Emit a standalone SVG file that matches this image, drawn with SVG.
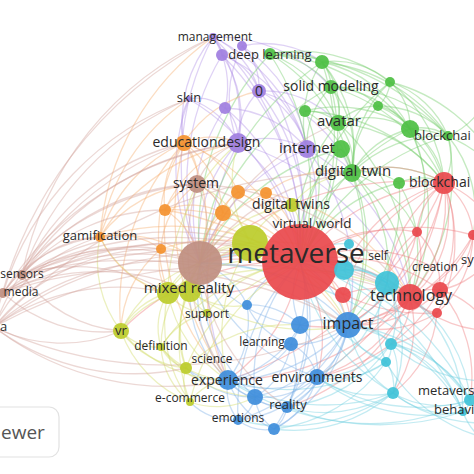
<svg xmlns="http://www.w3.org/2000/svg" width="474" height="474" viewBox="0 0 474 474">
<style>
text{font-family:"Open Sans","Noto Sans","DejaVu Sans",sans-serif;fill:#2a2a2a}
.lb{text-anchor:middle}
.st{text-anchor:start}
#edges path{fill:none;stroke-width:1.3;stroke-opacity:0.42}
.ep{stroke:#b394e6}.eg{stroke:#74cc6c}.er{stroke:#ee7c7e}.ec{stroke:#6fd0e0}
.eb{stroke:#7fb0e6}.ey{stroke:#d2dc6a}.eo{stroke:#f5ae70}.en{stroke:#d2a29a}
.red{fill:#e9494d}.grn{fill:#4fbf45}.blu{fill:#3f8edb}.cya{fill:#41c3d8}
.yel{fill:#bccc2c}.pur{fill:#a07fe0}.org{fill:#f4922f}.brn{fill:#bf8f81}
circle{fill-opacity:0.93}
</style>
<rect width="474" height="474" fill="#fff"/>
<g id="edges">
<g class="ep">
<path d="M213 37A140 140 0 0 1 238 143"/><path d="M213 37A180 180 0 0 1 307 149"/><path d="M213 37A290 290 0 0 1 300 262"/><path d="M213 37A85 85 0 0 1 259 91"/><path d="M213 37A30 30 0 0 1 222 55"/><path d="M213 37A90 90 0 0 1 225 108"/><path d="M213 37A130 130 0 0 0 184 143"/><path d="M213 37A270 270 0 0 0 200 263"/><path d="M213 37A155 155 0 0 1 331 87"/>
<path d="M222 55A110 110 0 0 1 238 143"/><path d="M222 55A60 60 0 0 1 259 91"/><path d="M222 55A150 150 0 0 1 307 149"/><path d="M222 55A265 265 0 0 1 300 262"/><path d="M222 55A250 250 0 0 0 200 263"/>
<path d="M242 46A60 60 0 0 1 259 91"/><path d="M242 46A145 145 0 0 1 307 149"/><path d="M242 46A270 270 0 0 1 300 262"/><path d="M242 46A115 115 0 0 0 238 143"/><path d="M242 46A100 100 0 0 1 322 62"/>
<path d="M189 99A80 80 0 0 1 238 143"/><path d="M189 99A235 235 0 0 1 300 262"/><path d="M189 99A55 55 0 0 0 184 143"/><path d="M189 99A45 45 0 0 1 225 108"/><path d="M189 99A195 195 0 0 0 200 263"/>
<path d="M225 108A45 45 0 0 1 238 143"/><path d="M225 108A110 110 0 0 1 307 149"/><path d="M225 108A205 205 0 0 1 300 262"/><path d="M225 108A190 190 0 0 0 200 263"/>
<path d="M259 91A70 70 0 0 0 238 143"/><path d="M259 91A90 90 0 0 1 307 149"/><path d="M259 91A210 210 0 0 1 300 262"/><path d="M259 91A100 100 0 0 1 338 123"/><path d="M259 91A150 150 0 0 1 352 173"/>
<path d="M238 143A160 160 0 0 1 300 262"/><path d="M238 143A145 145 0 0 0 200 263"/><path d="M238 143A85 85 0 0 1 307 149"/><path d="M238 143A285 285 0 0 0 228 380"/><path d="M238 143A275 275 0 0 1 410 297"/>
<path d="M307 149A135 135 0 0 1 300 262"/><path d="M307 149A60 60 0 0 1 352 173"/><path d="M307 149A190 190 0 0 0 200 263"/><path d="M307 149A215 215 0 0 1 348 325"/><path d="M307 149A215 215 0 0 1 410 297"/>
</g>
<g class="eg">
<path d="M270 54A85 85 0 0 1 331 87"/><path d="M270 54A65 65 0 0 1 322 62"/><path d="M270 54A115 115 0 0 1 338 123"/><path d="M270 54A250 250 0 0 1 300 262"/><path d="M270 54A175 175 0 0 1 352 173"/><path d="M270 54A265 265 0 0 0 200 263"/><path d="M270 54A235 235 0 0 1 448 136"/><path d="M270 54A190 190 0 0 1 410 129"/><path d="M270 54A150 150 0 0 1 390 82"/>
<path d="M322 62A40 40 0 0 1 331 87"/><path d="M322 62A85 85 0 0 1 390 82"/><path d="M322 62A75 75 0 0 1 338 123"/><path d="M322 62A130 130 0 0 1 410 129"/><path d="M322 62A240 240 0 0 1 300 262"/><path d="M322 62A135 135 0 0 1 352 173"/><path d="M322 62A280 280 0 0 0 200 263"/><path d="M322 62A105 105 0 0 0 307 149"/><path d="M322 62A175 175 0 0 1 448 136"/>
<path d="M331 87A45 45 0 0 1 338 123"/><path d="M331 87A60 60 0 0 1 378 106"/><path d="M331 87A110 110 0 0 1 410 129"/><path d="M331 87A215 215 0 0 1 300 262"/><path d="M331 87A105 105 0 0 1 352 173"/><path d="M331 87A260 260 0 0 0 200 263"/><path d="M331 87A80 80 0 0 0 307 149"/><path d="M331 87A155 155 0 0 1 448 136"/><path d="M331 87A180 180 0 0 1 444 183"/>
<path d="M390 82A35 35 0 0 1 378 106"/><path d="M390 82A60 60 0 0 1 410 129"/><path d="M390 82A95 95 0 0 1 448 136"/><path d="M390 82A120 120 0 0 0 352 173"/><path d="M390 82A240 240 0 0 0 300 262"/><path d="M390 82A140 140 0 0 1 444 183"/><path d="M390 82A170 170 0 0 1 500 170"/><path d="M448 136A75 75 0 0 0 490 90"/>
<path d="M378 106A55 55 0 0 0 338 123"/><path d="M378 106A50 50 0 0 1 410 129"/><path d="M378 106A100 100 0 0 0 352 173"/><path d="M378 106A95 95 0 0 1 448 136"/><path d="M378 106A115 115 0 0 1 444 183"/>
<path d="M305 111A45 45 0 0 1 338 123"/><path d="M305 111A95 95 0 0 1 352 173"/><path d="M305 111A180 180 0 0 1 300 262"/><path d="M305 111A130 130 0 0 1 410 129"/><path d="M305 111A185 185 0 0 1 444 183"/>
<path d="M338 123A85 85 0 0 1 410 129"/><path d="M338 123A65 65 0 0 1 352 173"/><path d="M338 123A170 170 0 0 0 300 262"/><path d="M338 123A145 145 0 0 1 444 183"/><path d="M338 123A220 220 0 0 1 410 297"/>
<path d="M410 129A50 50 0 0 1 448 136"/><path d="M410 129A90 90 0 0 0 352 173"/><path d="M410 129A205 205 0 0 0 300 262"/><path d="M410 129A75 75 0 0 1 444 183"/><path d="M410 129A200 200 0 0 1 410 297"/><path d="M410 129A125 125 0 0 1 417 232"/><path d="M410 129A115 115 0 0 1 495 170"/>
<path d="M448 136A125 125 0 0 0 352 173"/><path d="M448 136A235 235 0 0 0 300 262"/><path d="M448 136A60 60 0 0 1 444 183"/><path d="M448 136A195 195 0 0 1 410 297"/><path d="M448 136A120 120 0 0 1 473 235"/>
<path d="M341 149A35 35 0 0 1 352 173"/><path d="M341 149A135 135 0 0 0 300 262"/><path d="M341 149A215 215 0 0 0 200 263"/><path d="M341 149A210 210 0 0 1 348 325"/>
<path d="M352 173A115 115 0 0 0 300 262"/><path d="M352 173A60 60 0 0 1 399 183"/><path d="M352 173A110 110 0 0 1 444 183"/><path d="M352 173A165 165 0 0 1 410 297"/><path d="M352 173A180 180 0 0 1 348 325"/><path d="M352 173A135 135 0 0 1 387 283"/><path d="M352 173A105 105 0 0 1 417 232"/>
<path d="M399 183A55 55 0 0 1 444 183"/><path d="M399 183A150 150 0 0 0 300 262"/><path d="M399 183A135 135 0 0 1 410 297"/><path d="M399 183A180 180 0 0 1 348 325"/>
</g>
<g class="er">
<path d="M300 262A200 200 0 0 1 444 183"/><path d="M300 262A140 140 0 0 1 410 297"/><path d="M300 262A145 145 0 0 1 417 232"/><path d="M300 262A210 210 0 0 1 473 235"/><path d="M300 262A170 170 0 0 1 440 290"/><path d="M300 262A175 175 0 0 0 437 313"/><path d="M300 262A65 65 0 0 1 343 295"/><path d="M300 262A160 160 0 0 1 435 268"/>
<path d="M444 183A140 140 0 0 1 410 297"/><path d="M444 183A70 70 0 0 0 417 232"/><path d="M444 183A70 70 0 0 1 473 235"/><path d="M444 183A130 130 0 0 1 440 290"/><path d="M444 183A140 140 0 0 0 387 283"/><path d="M444 183A205 205 0 0 1 348 325"/><path d="M444 183A310 310 0 0 0 200 263"/><path d="M444 183A180 180 0 0 0 343 295"/><path d="M444 183A280 280 0 0 1 317 377"/><path d="M444 183A110 110 0 0 0 352 173"/><path d="M444 183A95 95 0 0 1 500 240"/><path d="M444 183A155 155 0 0 1 437 313"/><path d="M444 183A160 160 0 0 0 344 270"/><path d="M444 183A350 350 0 0 1 228 380"/>
<path d="M417 232A80 80 0 0 1 410 297"/><path d="M417 232A75 75 0 0 1 440 290"/><path d="M417 232A75 75 0 0 0 387 283"/><path d="M417 232A140 140 0 0 1 348 325"/>
<path d="M473 235A110 110 0 0 1 410 297"/><path d="M473 235A75 75 0 0 1 440 290"/><path d="M473 235A105 105 0 0 1 437 313"/><path d="M473 235A185 185 0 0 1 348 325"/><path d="M473 235A200 200 0 0 1 470 400"/><path d="M473 235A85 85 0 0 1 500 300"/>
<path d="M410 297A40 40 0 0 1 440 290"/><path d="M410 297A40 40 0 0 0 437 313"/><path d="M410 297A80 80 0 0 1 348 325"/><path d="M410 297A80 80 0 0 0 343 295"/><path d="M410 297A255 255 0 0 0 200 263"/><path d="M410 297A240 240 0 0 1 228 380"/><path d="M410 297A115 115 0 0 1 393 393"/><path d="M410 297A60 60 0 0 1 391 344"/><path d="M410 297A145 145 0 0 1 317 377"/><path d="M410 297A200 200 0 0 1 287 407"/><path d="M410 297A115 115 0 0 0 500 330"/><path d="M410 297A140 140 0 0 1 300 325"/>
<path d="M440 290A135 135 0 0 1 470 400"/><path d="M440 290A120 120 0 0 1 348 325"/><path d="M440 290A185 185 0 0 1 317 377"/><path d="M440 290A80 80 0 0 0 495 250"/><path d="M440 290A80 80 0 0 1 490 330"/>
<path d="M437 313A110 110 0 0 1 348 325"/><path d="M437 313A110 110 0 0 1 393 393"/><path d="M437 313A65 65 0 0 1 391 344"/>
<path d="M435 268A70 70 0 0 1 410 297"/><path d="M435 268A110 110 0 0 0 444 183"/>
<path d="M343 295A40 40 0 0 1 348 325"/><path d="M343 295A175 175 0 0 0 200 263"/>
<path d="M300 262A120 120 0 0 0 200 263"/><path d="M300 262A135 135 0 0 1 190 291"/><path d="M300 262A230 230 0 0 0 121 331"/><path d="M300 262A175 175 0 0 1 228 380"/><path d="M300 262A140 140 0 0 1 317 377"/>
</g>
<g class="ec">
<path d="M344 270A55 55 0 0 1 300 262"/><path d="M344 270A65 65 0 0 1 348 325"/><path d="M344 270A85 85 0 0 1 410 297"/><path d="M344 270A55 55 0 0 1 387 283"/>
<path d="M349 244A60 60 0 0 0 300 262"/>
<path d="M387 283A110 110 0 0 0 300 262"/><path d="M387 283A70 70 0 0 1 348 325"/><path d="M387 283A35 35 0 0 1 410 297"/><path d="M387 283A75 75 0 0 1 391 344"/><path d="M387 283A95 95 0 0 0 386 362"/><path d="M387 283A130 130 0 0 1 393 393"/><path d="M387 283A140 140 0 0 1 317 377"/><path d="M387 283A230 230 0 0 0 200 263"/>
<path d="M391 344A55 55 0 0 0 348 325"/><path d="M391 344A25 25 0 0 1 386 362"/><path d="M391 344A60 60 0 0 1 393 393"/><path d="M391 344A115 115 0 0 1 470 400"/><path d="M391 344A140 140 0 0 0 500 380"/><path d="M391 344A100 100 0 0 1 317 377"/><path d="M391 344A145 145 0 0 1 287 407"/>
<path d="M386 362A40 40 0 0 1 393 393"/><path d="M386 362A55 55 0 0 1 348 325"/><path d="M386 362A85 85 0 0 1 317 377"/><path d="M386 362A160 160 0 0 1 300 262"/><path d="M386 362A160 160 0 0 0 495 440"/><path d="M386 362A160 160 0 0 1 274 429"/><path d="M386 362A190 190 0 0 1 228 380"/>
<path d="M393 393A100 100 0 0 1 348 325"/><path d="M393 393A90 90 0 0 0 470 400"/><path d="M393 393A85 85 0 0 0 463 412"/><path d="M393 393A95 95 0 0 1 317 377"/><path d="M393 393A130 130 0 0 1 287 407"/><path d="M393 393A200 200 0 0 1 228 380"/><path d="M393 393A195 195 0 0 1 300 262"/><path d="M393 393A150 150 0 0 1 274 429"/><path d="M393 393A145 145 0 0 0 510 420"/><path d="M393 393A190 190 0 0 1 238 420"/>
<path d="M470 400A20 20 0 0 1 463 412"/><path d="M470 400A140 140 0 0 0 410 297"/><path d="M470 400A170 170 0 0 0 348 325"/><path d="M470 400A260 260 0 0 0 300 262"/><path d="M470 400A185 185 0 0 1 317 377"/><path d="M470 400A360 360 0 0 0 200 263"/><path d="M470 400A220 220 0 0 1 287 407"/><path d="M470 400A80 80 0 0 0 520 440"/>
<path d="M463 412A170 170 0 0 0 348 325"/><path d="M463 412A150 150 0 0 0 410 297"/><path d="M463 412A110 110 0 0 0 391 344"/><path d="M463 412A180 180 0 0 1 317 377"/><path d="M463 412A270 270 0 0 0 300 262"/><path d="M463 412A280 280 0 0 1 228 380"/><path d="M463 412A65 65 0 0 0 500 450"/>
</g>
<g class="eb">
<path d="M348 325A100 100 0 0 0 300 262"/><path d="M348 325A60 60 0 0 0 300 325"/><path d="M348 325A75 75 0 0 1 317 377"/><path d="M348 325A160 160 0 0 1 228 380"/><path d="M348 325A125 125 0 0 1 287 407"/><path d="M348 325A190 190 0 0 0 200 263"/><path d="M348 325A75 75 0 0 1 291 344"/><path d="M348 325A140 140 0 0 1 255 397"/><path d="M348 325A180 180 0 0 1 238 420"/>
<path d="M300 325A75 75 0 0 1 300 262"/><path d="M300 325A110 110 0 0 1 228 380"/><path d="M300 325A65 65 0 0 1 317 377"/><path d="M300 325A135 135 0 0 1 200 263"/>
<path d="M291 344A85 85 0 0 1 228 380"/><path d="M291 344A50 50 0 0 1 317 377"/><path d="M291 344A100 100 0 0 0 300 262"/><path d="M291 344A75 75 0 0 1 255 397"/><path d="M291 344A75 75 0 0 1 287 407"/>
<path d="M247 305A80 80 0 0 1 300 262"/><path d="M247 305A95 95 0 0 1 228 380"/><path d="M247 305A75 75 0 0 0 200 263"/><path d="M247 305A70 70 0 0 1 300 325"/><path d="M247 305A70 70 0 0 0 291 344"/>
<path d="M228 380A105 105 0 0 0 317 377"/><path d="M228 380A40 40 0 0 0 255 397"/><path d="M228 380A80 80 0 0 0 287 407"/><path d="M228 380A50 50 0 0 0 238 420"/><path d="M228 380A80 80 0 0 0 274 429"/><path d="M228 380A145 145 0 0 1 200 263"/><path d="M228 380A115 115 0 0 1 190 291"/>
<path d="M317 377A80 80 0 0 1 255 397"/><path d="M317 377A50 50 0 0 1 287 407"/><path d="M317 377A80 80 0 0 1 274 429"/><path d="M317 377A110 110 0 0 1 238 420"/>
<path d="M255 397A40 40 0 0 0 287 407"/><path d="M255 397A35 35 0 0 1 238 420"/><path d="M255 397A45 45 0 0 0 274 429"/><path d="M255 397A170 170 0 0 1 300 262"/><path d="M255 397A90 90 0 0 1 186 368"/>
<path d="M287 407A35 35 0 0 1 274 429"/><path d="M287 407A175 175 0 0 0 300 262"/>
<path d="M238 420A45 45 0 0 0 274 429"/><path d="M238 420A205 205 0 0 1 300 262"/><path d="M274 429A205 205 0 0 0 300 262"/><path d="M274 429A150 150 0 0 0 348 325"/>
<path d="M228 380A55 55 0 0 1 186 368"/><path d="M238 420A60 60 0 0 1 190 402"/><path d="M255 397A170 170 0 0 1 200 263"/><path d="M317 377A185 185 0 0 1 200 263"/>
</g>
<g class="ey">
<path d="M250 243A65 65 0 0 0 200 263"/><path d="M250 243A115 115 0 0 0 168 293"/><path d="M250 243A90 90 0 0 0 190 291"/><path d="M250 243A100 100 0 0 0 197 184"/>
<path d="M168 293A50 50 0 0 1 200 263"/><path d="M190 291A35 35 0 0 1 200 263"/><path d="M168 293A160 160 0 0 1 300 262"/><path d="M168 293A50 50 0 0 0 207 313"/><path d="M190 291A70 70 0 0 0 247 305"/>
<path d="M168 293A75 75 0 0 0 121 331"/><path d="M190 291A95 95 0 0 0 121 331"/>
<path d="M121 331A130 130 0 0 1 200 263"/><path d="M121 331A50 50 0 0 0 161 347"/><path d="M121 331A90 90 0 0 0 186 368"/><path d="M121 331A140 140 0 0 0 228 380"/><path d="M121 331A120 120 0 0 0 190 402"/>
<path d="M161 347A65 65 0 0 1 168 293"/><path d="M161 347A195 195 0 0 1 300 262"/><path d="M161 347A110 110 0 0 1 200 263"/><path d="M161 347A90 90 0 0 0 228 380"/><path d="M161 347A75 75 0 0 0 190 402"/><path d="M161 347A75 75 0 0 1 207 313"/><path d="M161 347A125 125 0 0 0 255 397"/>
<path d="M186 368A180 180 0 0 1 300 262"/><path d="M186 368A125 125 0 0 1 200 263"/><path d="M186 368A90 90 0 0 1 190 291"/><path d="M186 368A40 40 0 0 0 190 402"/><path d="M186 368A145 145 0 0 1 300 325"/><path d="M186 368A40 40 0 0 1 161 347"/>
<path d="M190 402A210 210 0 0 1 300 262"/><path d="M190 402A135 135 0 0 1 168 293"/><path d="M190 402A165 165 0 0 1 200 263"/><path d="M190 402A50 50 0 0 1 228 380"/><path d="M190 402A80 80 0 0 0 255 397"/>
<path d="M207 313A125 125 0 0 1 300 262"/><path d="M207 313A60 60 0 0 1 200 263"/><path d="M207 313A35 35 0 0 1 190 291"/>
<path d="M292 205A70 70 0 0 1 300 262"/><path d="M292 205A130 130 0 0 0 200 263"/><path d="M292 205A85 85 0 0 1 352 173"/><path d="M292 205A70 70 0 0 0 250 243"/>
<path d="M250 243A120 120 0 0 1 238 143"/><path d="M250 243A165 165 0 0 0 228 380"/><path d="M168 293A130 130 0 0 0 228 380"/><path d="M190 291A195 195 0 0 0 348 325"/>
<path d="M168 293A105 105 0 0 1 100 237"/><path d="M121 331A115 115 0 0 1 100 237"/><path d="M168 293A200 200 0 0 1 238 143"/><path d="M190 291A130 130 0 0 1 197 184"/>
<path d="M250 243A200 200 0 0 1 410 297"/><path d="M250 243A160 160 0 0 1 348 325"/><path d="M168 293A290 290 0 0 1 410 297"/>
</g>
<g class="eo">
<path d="M184 143A145 145 0 0 1 200 263"/><path d="M184 143A200 200 0 0 1 300 262"/><path d="M184 143A50 50 0 0 1 197 184"/><path d="M184 143A65 65 0 0 1 238 143"/><path d="M184 143A85 85 0 0 0 165 210"/><path d="M184 143A95 95 0 0 1 223 213"/><path d="M184 143A85 85 0 0 1 238 192"/><path d="M184 143A180 180 0 0 0 168 293"/><path d="M184 143A115 115 0 0 1 259 91"/>
<path d="M100 237A125 125 0 0 1 200 263"/><path d="M100 237A245 245 0 0 1 300 262"/><path d="M100 237A75 75 0 0 1 161 249"/><path d="M100 237A150 150 0 0 1 184 143"/><path d="M100 237A100 100 0 0 0 168 293"/><path d="M100 237A270 270 0 0 1 213 37"/><path d="M100 237A205 205 0 0 1 189 99"/><path d="M100 237A130 130 0 0 1 197 184"/><path d="M100 237A200 200 0 0 1 238 143"/>
<path d="M165 210A75 75 0 0 1 200 263"/><path d="M165 210A175 175 0 0 1 300 262"/><path d="M165 210A50 50 0 0 1 197 184"/><path d="M165 210A70 70 0 0 1 223 213"/><path d="M165 210A120 120 0 0 1 238 143"/>
<path d="M223 213A65 65 0 0 0 200 263"/><path d="M223 213A110 110 0 0 1 300 262"/><path d="M223 213A35 35 0 0 1 238 192"/><path d="M223 213A50 50 0 0 0 197 184"/>
<path d="M238 192A115 115 0 0 1 300 262"/><path d="M238 192A100 100 0 0 0 200 263"/><path d="M238 192A35 35 0 0 1 266 193"/>
<path d="M266 193A90 90 0 0 1 300 262"/><path d="M266 193A115 115 0 0 0 200 263"/><path d="M266 193A105 105 0 0 1 352 173"/>
<path d="M161 249A50 50 0 0 1 200 263"/><path d="M161 249A170 170 0 0 1 300 262"/><path d="M161 249A55 55 0 0 0 168 293"/><path d="M161 249A85 85 0 0 1 197 184"/>
<path d="M184 143A285 285 0 0 0 228 380"/><path d="M165 210A215 215 0 0 0 228 380"/><path d="M223 213A200 200 0 0 0 228 380"/><path d="M161 249A110 110 0 0 0 121 331"/><path d="M184 143A240 240 0 0 0 121 331"/>
<path d="M238 192A200 200 0 0 1 348 325"/><path d="M266 193A210 210 0 0 1 410 297"/><path d="M165 210A275 275 0 0 1 348 325"/>
</g>
<g class="en">
<path d="M197 184A95 95 0 0 1 200 263"/><path d="M197 184A160 160 0 0 1 300 262"/><path d="M197 184A70 70 0 0 1 238 143"/><path d="M197 184A50 50 0 0 1 223 213"/>
<path d="M22 275A215 215 0 0 1 200 263"/><path d="M22 275A330 330 0 0 1 300 262"/><path d="M22 275A175 175 0 0 1 168 293"/><path d="M22 275A460 460 0 0 1 410 297"/><path d="M22 275A400 400 0 0 1 348 325"/><path d="M22 275A280 280 0 0 1 250 243"/><path d="M22 275A300 300 0 0 1 238 143"/><path d="M22 275A240 240 0 0 1 184 143"/><path d="M22 275A230 230 0 0 1 197 184"/><path d="M22 275A330 330 0 0 1 213 37"/><path d="M22 275A300 300 0 0 1 189 99"/><path d="M22 275A190 190 0 0 1 165 210"/><path d="M22 275A105 105 0 0 1 100 237"/><path d="M22 275A135 135 0 0 0 121 331"/>
<path d="M3 293A240 240 0 0 1 200 263"/><path d="M3 293A355 355 0 0 1 300 262"/><path d="M3 293A225 225 0 0 1 190 291"/><path d="M3 293A480 480 0 0 1 410 297"/><path d="M3 293A420 420 0 0 1 348 325"/><path d="M3 293A265 265 0 0 1 197 184"/><path d="M3 293A330 330 0 0 1 238 143"/><path d="M3 293A300 300 0 0 1 189 99"/><path d="M3 293A205 205 0 0 1 161 249"/><path d="M3 293A135 135 0 0 1 100 237"/><path d="M3 293A150 150 0 0 0 121 331"/>
<path d="M-6 327A260 260 0 0 1 200 263"/><path d="M-6 327A370 370 0 0 1 300 262"/><path d="M-6 327A215 215 0 0 1 168 293"/><path d="M-6 327A150 150 0 0 0 121 331"/><path d="M-6 327A500 500 0 0 1 410 297"/><path d="M-6 327A420 420 0 0 0 348 325"/><path d="M-6 327A285 285 0 0 0 228 380"/><path d="M-6 327A320 320 0 0 1 184 143"/><path d="M-6 327A480 480 0 0 1 352 173"/><path d="M-6 327A420 420 0 0 1 213 37"/><path d="M-6 327A210 210 0 0 1 161 249"/><path d="M-6 327A170 170 0 0 1 100 237"/><path d="M-6 327A235 235 0 0 0 186 368"/>
<path d="M197 184A235 235 0 0 0 228 380"/><path d="M197 184A285 285 0 0 1 410 297"/><path d="M200 263A215 215 0 0 1 352 173"/><path d="M200 263A245 245 0 0 1 338 123"/><path d="M200 263A195 195 0 0 0 287 407"/><path d="M200 263A175 175 0 0 1 344 270"/>
</g>
</g>
<g id="nodes">
<g id="n-management"><circle class="pur" cx="213" cy="37" r="4"/></g>
<g id="n-p1"><circle class="pur" cx="222" cy="55" r="6"/></g>
<g id="n-p2"><circle class="pur" cx="242" cy="46" r="5"/></g>
<g id="n-skin"><circle class="pur" cx="189" cy="99" r="3"/></g>
<g id="n-p3"><circle class="pur" cx="225" cy="108" r="6"/></g>
<g id="n-zero"><circle class="pur" cx="259" cy="91" r="7"/></g>
<g id="n-design"><circle class="pur" cx="238" cy="143" r="10"/></g>
<g id="n-internet"><circle class="pur" cx="307" cy="149" r="9"/></g>
<g id="n-deeplearning"><circle class="grn" cx="270" cy="54" r="6"/></g>
<g id="n-g1"><circle class="grn" cx="322" cy="62" r="7"/></g>
<g id="n-solidmodeling"><circle class="grn" cx="331" cy="87" r="7"/></g>
<g id="n-g2"><circle class="grn" cx="390" cy="82" r="5"/></g>
<g id="n-g3"><circle class="grn" cx="378" cy="106" r="5"/></g>
<g id="n-g4"><circle class="grn" cx="305" cy="111" r="6"/></g>
<g id="n-avatar"><circle class="grn" cx="338" cy="123" r="8"/></g>
<g id="n-g5"><circle class="grn" cx="410" cy="129" r="9"/></g>
<g id="n-blockchain-g"><circle class="grn" cx="448" cy="136" r="5"/></g>
<g id="n-g6"><circle class="grn" cx="341" cy="149" r="9"/></g>
<g id="n-digitaltwin"><circle class="grn" cx="352" cy="173" r="9"/></g>
<g id="n-g7"><circle class="grn" cx="399" cy="183" r="6"/></g>
<g id="n-education"><circle class="org" cx="184" cy="143" r="8"/></g>
<g id="n-gamification"><circle class="org" cx="100" cy="237" r="5"/></g>
<g id="n-o1"><circle class="org" cx="165" cy="210" r="6"/></g>
<g id="n-o2"><circle class="org" cx="223" cy="213" r="8"/></g>
<g id="n-o3"><circle class="org" cx="238" cy="192" r="7"/></g>
<g id="n-o4"><circle class="org" cx="266" cy="193" r="6"/></g>
<g id="n-o5"><circle class="org" cx="161" cy="249" r="5"/></g>
<g id="n-system"><circle class="brn" cx="197" cy="184" r="9"/></g>
<g id="n-sensors"><circle class="brn" cx="22" cy="275" r="5"/></g>
<g id="n-media"><circle class="brn" cx="3" cy="293" r="5"/></g>
<g id="n-digitaltwins"><circle class="yel" cx="292" cy="205" r="7"/></g>
<g id="n-bigyellow"><circle class="yel" cx="250" cy="243" r="18"/></g>
<g id="n-vr"><circle class="yel" cx="121" cy="331" r="8"/></g>
<g id="n-definition"><circle class="yel" cx="161" cy="347" r="4"/></g>
<g id="n-science"><circle class="yel" cx="186" cy="368" r="6"/></g>
<g id="n-ecommerce"><circle class="yel" cx="190" cy="402" r="4"/></g>
<g id="n-support"><circle class="yel" cx="207" cy="313" r="4"/></g>
<g id="n-mr1"><circle class="yel" cx="168" cy="293" r="11"/></g>
<g id="n-mixedreality"><circle class="yel" cx="190" cy="291" r="11"/></g>
<g id="n-blockchain-r"><circle class="red" cx="444" cy="183" r="11"/></g>
<g id="n-r1"><circle class="red" cx="417" cy="232" r="5"/></g>
<g id="n-r2"><circle class="red" cx="473" cy="235" r="5"/></g>
<g id="n-r3"><circle class="red" cx="440" cy="290" r="8"/></g>
<g id="n-r4"><circle class="red" cx="437" cy="313" r="5"/></g>
<g id="n-r5"><circle class="red" cx="343" cy="295" r="8"/></g>
<g id="n-c7"><circle class="cya" cx="470" cy="400" r="6"/></g>
<g id="n-c8"><circle class="cya" cx="463" cy="412" r="4"/></g>
<g id="n-c4"><circle class="cya" cx="391" cy="344" r="6"/></g>
<g id="n-c5"><circle class="cya" cx="386" cy="362" r="5"/></g>
<g id="n-c6"><circle class="cya" cx="393" cy="393" r="6"/></g>
<g id="n-b3"><circle class="blu" cx="300" cy="325" r="9"/></g>
<g id="n-learning"><circle class="blu" cx="291" cy="344" r="7"/></g>
<g id="n-b4"><circle class="blu" cx="247" cy="305" r="5"/></g>
<g id="n-experience"><circle class="blu" cx="228" cy="380" r="10"/></g>
<g id="n-b2"><circle class="blu" cx="255" cy="397" r="8"/></g>
<g id="n-environments"><circle class="blu" cx="317" cy="377" r="8"/></g>
<g id="n-reality"><circle class="blu" cx="287" cy="407" r="6"/></g>
<g id="n-emotions"><circle class="blu" cx="238" cy="420" r="5"/></g>
<g id="n-b1"><circle class="blu" cx="274" cy="429" r="6"/></g>
<g id="n-impact"><circle class="blu" cx="348" cy="325" r="13"/></g>
<g id="n-bigbrown"><circle class="brn" cx="200" cy="263" r="22"/></g>
<g id="n-metaverse"><circle class="red" cx="300" cy="262" r="38"/></g>
<g id="n-c2"><circle class="cya" cx="349" cy="244" r="5"/></g>
<g id="n-c1"><circle class="cya" cx="344" cy="270" r="10"/></g>
<g id="n-technology"><circle class="red" cx="410" cy="297" r="13"/></g>
<g id="n-c3"><circle class="cya" cx="387" cy="283" r="12"/></g>
</g>
<g id="labels">
<text class="lb" x="215" y="41" font-size="12">management</text>
<text class="lb" x="270" y="59" font-size="13">deep learning</text>
<text class="lb" x="189" y="102" font-size="13">skin</text>
<text class="lb" x="259" y="96" font-size="14">0</text>
<text class="lb" x="331" y="91" font-size="14">solid modeling</text>
<text class="lb" x="339" y="126" font-size="15">avatar</text>
<text class="st" x="414" y="140" font-size="13">blockchai</text>
<text class="lb" x="307" y="153" font-size="15">internet</text>
<text class="lb" x="239" y="147" font-size="14">design</text>
<text class="lb" x="185" y="147" font-size="14">education</text>
<text class="lb" x="353" y="176" font-size="15">digital twin</text>
<text class="st" x="409" y="187" font-size="14">blockchai</text>
<text class="lb" x="196" y="188" font-size="14">system</text>
<text class="lb" x="291" y="209" font-size="14">digital twins</text>
<text class="lb" x="312" y="228" font-size="13.5">virtual world</text>
<text class="lb" x="100" y="240" font-size="13">gamification</text>
<text class="lb" x="296" y="263" font-size="28">metaverse</text>
<text class="lb" x="378" y="260" font-size="12">self</text>
<text class="st" x="461" y="264" font-size="13">sy</text>
<text class="lb" x="435" y="271" font-size="12">creation</text>
<text class="lb" x="22" y="278" font-size="12">sensors</text>
<text class="lb" x="189" y="293" font-size="15">mixed reality</text>
<text class="lb" x="21" y="296" font-size="12">media</text>
<text class="lb" x="411" y="301" font-size="16">technology</text>
<text class="lb" x="207" y="318" font-size="12">support</text>
<text class="lb" x="348" y="329" font-size="16">impact</text>
<text class="lb" x="121" y="335" font-size="13">vr</text>
<text class="st" x="0" y="331" font-size="13">a</text>
<text class="lb" x="262" y="346" font-size="12">learning</text>
<text class="lb" x="161" y="350" font-size="12">definition</text>
<text class="lb" x="212" y="363" font-size="12">science</text>
<text class="lb" x="317" y="382" font-size="14">environments</text>
<text class="lb" x="227" y="385" font-size="14">experience</text>
<text class="st" x="418" y="395" font-size="13">metavers</text>
<text class="lb" x="190" y="402" font-size="12">e-commerce</text>
<text class="lb" x="288" y="409" font-size="13">reality</text>
<text class="st" x="434" y="414" font-size="13">behavi</text>
<text class="lb" x="238" y="422" font-size="12">emotions</text>
</g>
<g id="badge">
<rect x="-20" y="407" width="79" height="50" rx="10" fill="#fff" stroke="#e2e2e2" stroke-width="1.2"/>
<text x="1" y="439" font-size="19" style="fill:#555">ewer</text>
</g>
</svg>
